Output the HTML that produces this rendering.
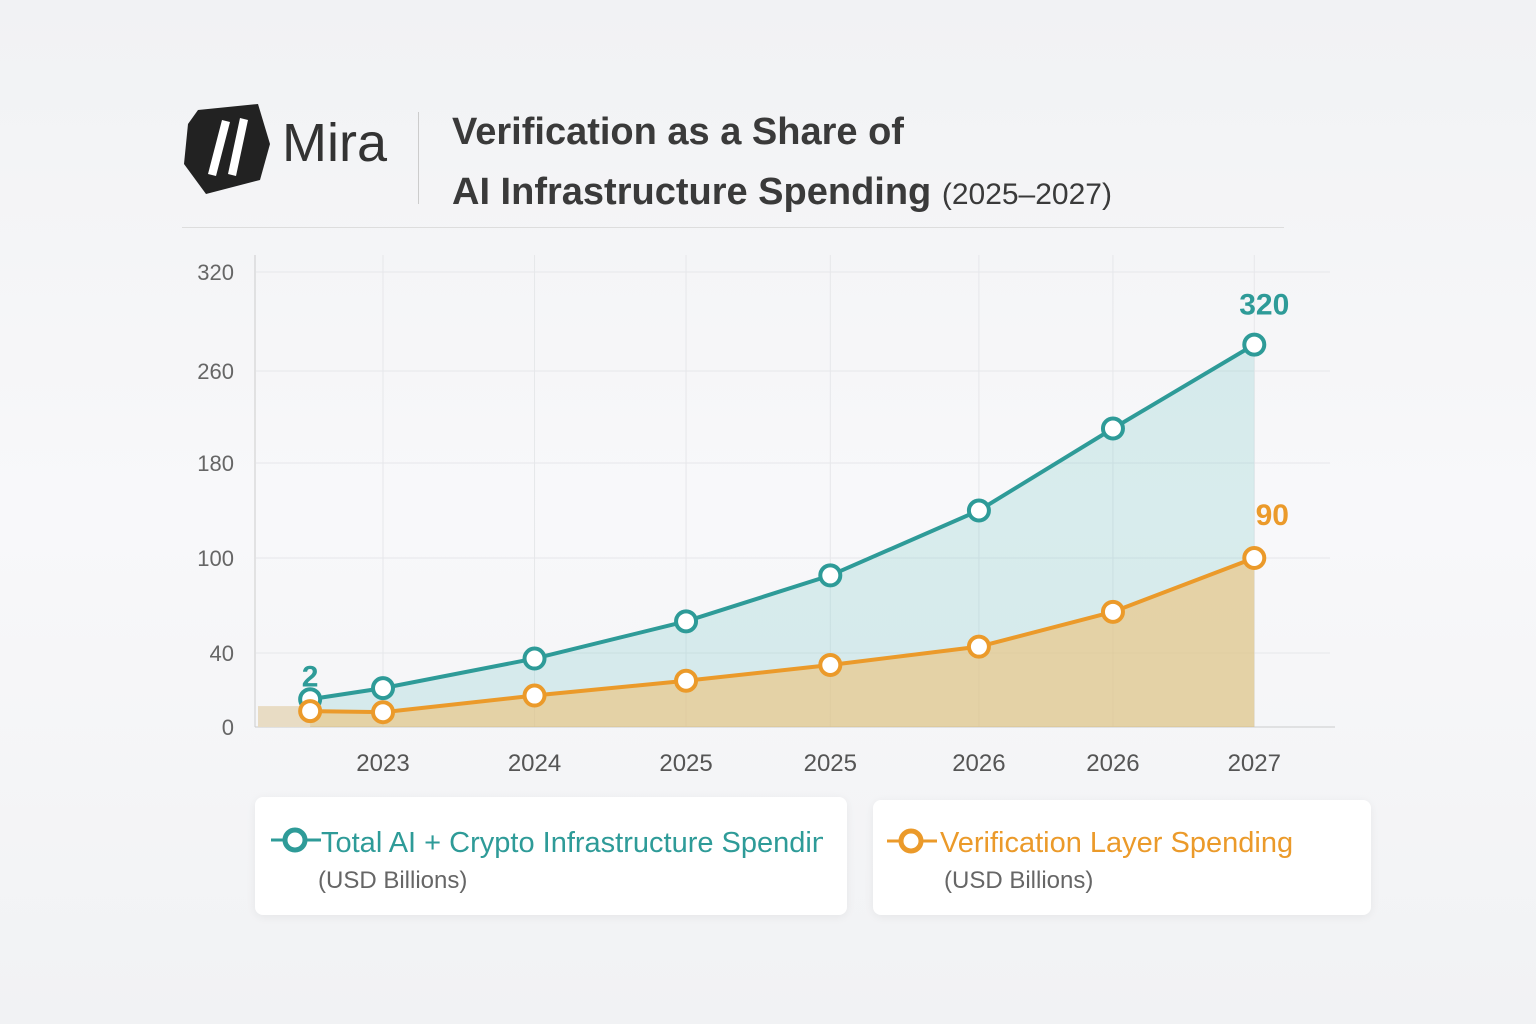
<!DOCTYPE html>
<html><head><meta charset="utf-8">
<style>
html,body{margin:0;padding:0;width:1536px;height:1024px;overflow:hidden;background:#f4f5f7;font-family:"Liberation Sans",sans-serif}
.legend{position:absolute;background:#fff;border-radius:8px;box-shadow:0 2px 10px rgba(0,0,0,0.06)}
.lt{position:absolute;font-size:29px;white-space:nowrap;overflow:hidden}
.ls{position:absolute;font-size:24px;color:#666}
</style></head><body>
<div style="position:absolute;left:0;top:0;width:1536px;height:1024px;background:linear-gradient(#f1f2f4,#f8f8fa 50%,#f1f2f4)">
<svg style="position:absolute;left:184px;top:104px" width="88" height="90" viewBox="0 0 88 90">
<path d="M14 6 L74 0 L86 40 L76 76 L22 90 L0 60 L4 20 Z" fill="#222"/>
<path d="M24 70 L38 16 L46 18 L32 72 Z M44 70 L56 14 L64 16 L52 72 Z" fill="#fff"/>
</svg>
<div style="position:absolute;left:282px;top:112px;font-size:54px;color:#333;font-weight:500">Mira</div>
<div style="position:absolute;left:418px;top:112px;width:1px;height:92px;background:#ccc"></div>
<div style="position:absolute;left:452px;top:102px;font-size:38px;font-weight:bold;color:#3a3a3a;line-height:60px">Verification as a Share of<br>AI Infrastructure Spending <span style="font-size:30px;font-weight:normal">(2025–2027)</span></div>
<div style="position:absolute;left:182px;top:227px;width:1102px;height:1px;background:#ddd"></div>
<svg id="chart" style="position:absolute;left:0;top:0" width="1536" height="1024"></svg>
<div class="legend" style="left:255px;top:797px;width:592px;height:118px">
<svg style="position:absolute;left:16px;top:28px" width="50" height="30"><line x1="0" y1="15" x2="50" y2="15" stroke="#2e9b98" stroke-width="3"/><circle cx="24" cy="15" r="10" fill="#fff" stroke="#2e9b98" stroke-width="5"/></svg>
<div class="lt" style="left:66px;top:30px;width:502px;color:#2e9b98">Total AI + Crypto Infrastructure Spending</div>
<div class="ls" style="left:63px;top:70px">(USD Billions)</div>
</div>
<div class="legend" style="left:873px;top:800px;width:498px;height:115px">
<svg style="position:absolute;left:14px;top:26px" width="50" height="30"><line x1="0" y1="15" x2="50" y2="15" stroke="#eb9a2a" stroke-width="3"/><circle cx="24" cy="15" r="10" fill="#fff" stroke="#eb9a2a" stroke-width="5"/></svg>
<div class="lt" style="left:67px;top:27px;color:#eb9a2a">Verification Layer Spending</div>
<div class="ls" style="left:71px;top:67px">(USD Billions)</div>
</div>
</div>
<script>
const xPositions=[-0.5,0,1.04,2.08,3.07,4.09,5.01,5.98];
const xLabels=["","2023","2024","2025","2025","2026","2026","2027"];
const totalSpend=[15,21,37,60,89,140,210,276];
const verifySpend=[8.6,8,17,25,33.5,44,66,100];
const yTicks=[0,40,100,180,260,320];
const totalEndLabel="320",verifyEndLabel="90",startLabel="2";
const NS="http://www.w3.org/2000/svg";
const svg=document.getElementById('chart');
const tickPx=[727,653,558,463,371,272];
function y(v){for(let i=0;i<yTicks.length-1;i++){if(v<=yTicks[i+1]||i==yTicks.length-2){const t=(v-yTicks[i])/(yTicks[i+1]-yTicks[i]);return tickPx[i]+t*(tickPx[i+1]-tickPx[i]);}}}
function x(i){return 383+i*145.7;}
function mk(tag,a,p){const e=document.createElementNS(NS,tag);for(const k in a)e.setAttribute(k,a[k]);(p||svg).appendChild(e);return e;}
yTicks.forEach((t,i)=>{if(t>0){const l=mk('line',{x1:256,x2:1330,y1:y(t),y2:y(t),stroke:'#e6e7ea','stroke-width':1});

}
const tx=mk('text',{x:234,y:y(t)+8,'text-anchor':'end','font-size':22,fill:'#666','font-family':'Liberation Sans'});tx.textContent=t;

});
xPositions.forEach((p,i)=>{if(!xLabels[i])return;const l=mk('line',{x1:x(p),x2:x(p),y1:255,y2:727,stroke:'#e6e7ea'});


const tx=mk('text',{x:x(p),y:771,'text-anchor':'middle','font-size':24,fill:'#555','font-family':'Liberation Sans'});tx.textContent=xLabels[i];

});
const ax=mk('line',{x1:255,x2:255,y1:255,y2:727,stroke:'#ccc'});


const bx=mk('line',{x1:255,x2:1335,y1:727,y2:727,stroke:'#ccc'});


const strip=mk('rect',{x:258,y:y(verifySpend[0])-5,width:x(xPositions[0])-258,height:727-y(verifySpend[0])+5,fill:'#e8dcc4'});


function series(vals,color,fill,name){
 const pts=vals.map((v,i)=>[x(xPositions[i]),y(v)]);
 const last=pts[pts.length-1];
 const area=mk('path',{d:'M'+pts.map(p=>p.join(',')).join(' L')+` L${last[0]},727 L${pts[0][0]},727 Z`,fill:fill});
 
 
 const ln=mk('polyline',{points:pts.map(p=>p.join(',')).join(' '),fill:'none',stroke:color,'stroke-width':4});
 
 
 return pts;}
const tp=series(totalSpend,'#2e9b98','rgba(120,200,200,0.25)','total');
const vp=series(verifySpend,'#eb9a2a','rgba(240,190,110,0.55)','verification');
[[tp,'#2e9b98','total'],[vp,'#eb9a2a','verification']].forEach(([pts,c,n])=>pts.forEach(p=>{const m=mk('circle',{cx:p[0],cy:p[1],r:10,fill:'#fff',stroke:c,'stroke-width':4});

}));
function lab(t,xx,yy,c,n){const e=mk('text',{x:xx,y:yy,'text-anchor':'middle','font-size':30,'font-weight':'bold',fill:c,'font-family':'Liberation Sans'});e.textContent=t;

}
lab(totalEndLabel,tp[7][0]+10,tp[7][1]-30,'#2e9b98','total-end-label');
lab(verifyEndLabel,vp[7][0]+18,vp[7][1]-33,'#eb9a2a','verification-end-label');
lab(startLabel,tp[0][0],tp[0][1]-13,'#2e9b98','start-label');
</script>
</body></html>
